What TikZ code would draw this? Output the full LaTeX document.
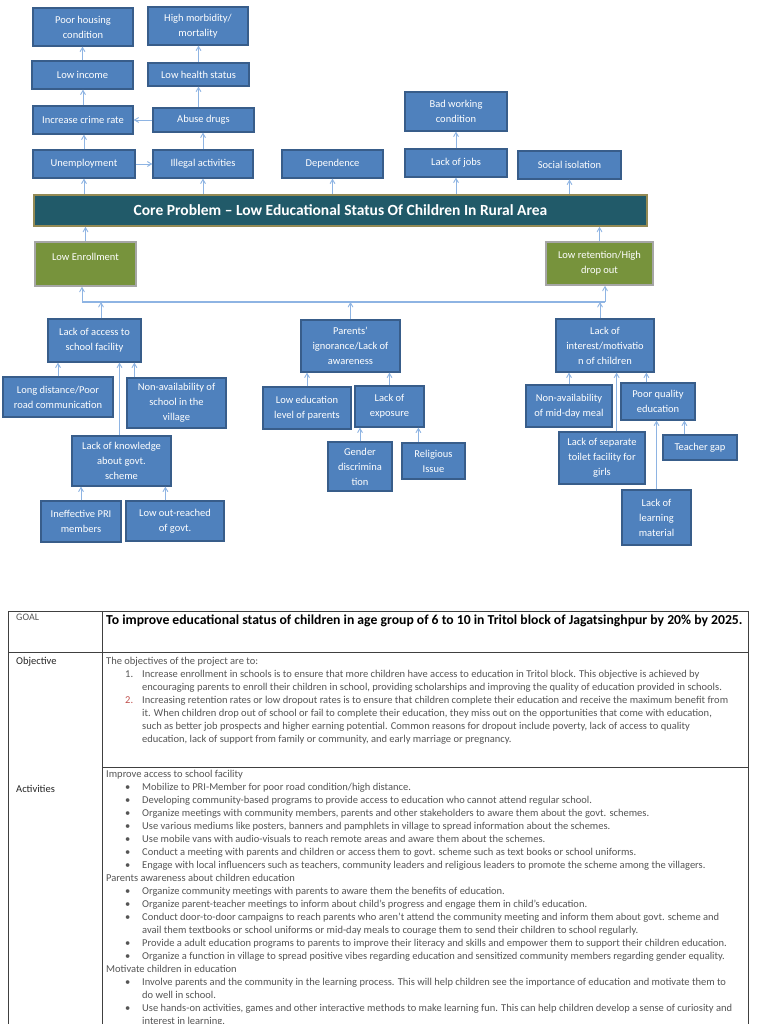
\documentclass[tikz,border=0pt]{standalone}
\usepackage{fontspec}
\setmainfont{Carlito}
\usepackage{xcolor}
\usetikzlibrary{arrows,shapes,positioning,calc}

\definecolor{probblue}{HTML}{4F81BD}
\definecolor{probedge}{HTML}{385D8A}
\definecolor{linkblue}{HTML}{8EB4E3}
\definecolor{coreteal}{HTML}{215A69}
\definecolor{coreedge}{HTML}{948A54}
\definecolor{causegreen}{HTML}{77933C}
\definecolor{causeedge}{HTML}{A6A6A6}
\definecolor{tabline}{HTML}{404040}
\definecolor{tabgray}{HTML}{555555}
\definecolor{numred}{HTML}{C0504D}

\newcommand{\numline}[2]{\hspace*{19pt}\makebox[17pt][l]{#1}#2}
\newcommand{\bulline}[1]{\hspace*{19pt}\makebox[17pt][l]{\textbullet}#1}
\newcommand{\contline}[1]{\hspace*{36pt}#1}

\begin{document}
\begin{tikzpicture}[x=1pt,y=-1pt]
      \tikzstyle{every node}=[inner sep=0pt]
      \tikzstyle{prob}=[draw=probedge,fill=probblue,text=white,line width=1.2pt,align=center,font=\fontsize{10.5}{15}\selectfont]
      \tikzstyle{core}=[draw=coreedge,fill=coreteal,text=white,line width=1.6pt,font=\fontsize{15.5}{18}\selectfont\bfseries]
      \tikzstyle{cause}=[draw=causeedge,fill=causegreen,text=white,line width=1.6pt,align=center,font=\fontsize{10.5}{15}\selectfont]
      \tikzstyle{link}=[->,>=angle 60,draw=linkblue,line width=0.9pt]
      \tikzstyle{bus}=[draw=linkblue,line width=1.4pt]
      \tikzstyle{tabrule}=[draw=tabline,line width=1pt]
      \tikzstyle{tablabel}=[text=tabgray,font=\fontsize{10.5}{13}\selectfont]
      \tikzstyle{tabtext}=[text=tabgray,align=left,font=\fontsize{10.5}{13}\selectfont]

      \path[use as bounding box,fill=white] (0,0) rectangle (768,1024);

      % core problem
      \node[core,minimum width=613pt,minimum height=31pt] (core) at (340.5,210.5) {Core Problem -- Low Educational Status Of Children In Rural Area};

      % effects
      \node[prob,minimum width=100pt,minimum height=38pt] (housing) at (83,27) {Poor housing\\condition};
      \node[prob,minimum width=100pt,minimum height=38pt] (morb) at (198,26) {High morbidity/\\mortality};
      \node[prob,minimum width=101pt,minimum height=28pt] (income) at (82.5,75) {Low income};
      \node[prob,minimum width=101pt,minimum height=23pt] (health) at (198.5,74.5) {Low health status};
      \node[prob,minimum width=100pt,minimum height=28pt] (crime) at (83,120) {Increase crime rate};
      \node[prob,minimum width=101pt,minimum height=24pt] (abuse) at (203.5,120) {Abuse drugs};
      \node[prob,minimum width=102pt,minimum height=28pt] (unemp) at (84,164) {Unemployment};
      \node[prob,minimum width=100pt,minimum height=28pt] (ill) at (203,164) {Illegal activities};
      \node[prob,minimum width=101pt,minimum height=28pt] (dep) at (332.5,164) {Dependence};
      \node[prob,minimum width=102pt,minimum height=39pt] (badwork) at (456,111.5) {Bad working\\condition};
      \node[prob,minimum width=102pt,minimum height=28pt] (jobs) at (456,163) {Lack of jobs};
      \node[prob,minimum width=103pt,minimum height=28pt] (social) at (569.5,165) {Social isolation};

      % causes
      \node[cause,minimum width=101pt,minimum height=44pt] (enroll) at (85.5,264) {Low Enrollment\\ \mbox{}};
      \node[cause,minimum width=107pt,minimum height=43pt] (ret) at (599.5,263.5) {Low retention/High\\drop out};

      \node[prob,minimum width=93pt,minimum height=43pt] (access) at (94.5,340.5) {Lack of access to\\school facility};
      \node[prob,minimum width=110pt,minimum height=40pt] (longd) at (58,397) {Long distance/Poor\\road communication};
      \node[prob,minimum width=99pt,minimum height=50pt] (nosch) at (176.5,403) {Non-availability of\\school in the\\village};
      \node[prob,minimum width=99pt,minimum height=50pt] (know) at (121.5,461) {Lack of knowledge\\about govt.\\scheme};
      \node[prob,minimum width=80pt,minimum height=41pt] (pri) at (81,521.5) {Ineffective PRI\\members};
      \node[prob,minimum width=98pt,minimum height=40pt] (outr) at (175,521) {Low out-reached\\of govt.};

      \node[prob,minimum width=99pt,minimum height=52pt] (parents) at (350.5,346) {Parents'\\ignorance/Lack of\\awareness};
      \node[prob,minimum width=88pt,minimum height=42pt] (lowedu) at (307,408) {Low education\\level of parents};
      \node[prob,minimum width=69pt,minimum height=41pt] (expo) at (389.5,406.5) {Lack of\\exposure};
      \node[prob,minimum width=64pt,minimum height=49pt] (gender) at (360,466.5) {Gender\\discrimina\\tion};
      \node[prob,minimum width=63pt,minimum height=36pt] (relig) at (433.5,461) {Religious\\Issue};

      \node[prob,minimum width=98pt,minimum height=53pt] (interest) at (605,345.5) {Lack of\\interest/motivatio\\n of children};
      \node[prob,minimum width=86pt,minimum height=42pt] (midday) at (569,406) {Non-availability\\of mid-day meal};
      \node[prob,minimum width=86pt,minimum height=52pt] (toilet) at (602,458) {Lack of separate\\toilet facility for\\girls};
      \node[prob,minimum width=74pt,minimum height=37pt] (poorq) at (658,401.5) {Poor quality\\education};
      \node[prob,minimum width=74pt,minimum height=25pt] (teacher) at (700,447.5) {Teacher gap};
      \node[prob,minimum width=69pt,minimum height=55pt] (learn) at (656.5,517.5) {Lack of\\learning\\material};

      % effect arrows
      \draw[link] (unemp.south |- core.north) -- (unemp.south);
      \draw[link] (ill.south |- core.north) -- (ill.south);
      \draw[link] (dep.south |- core.north) -- (dep.south);
      \draw[link] (jobs.south |- core.north) -- (jobs.south);
      \draw[link] (social.south |- core.north) -- (social.south);
      \draw[link] (unemp.north) -- (unemp.north |- crime.south);
      \draw[link] (crime.north) -- (crime.north |- income.south);
      \draw[link] (income.north) -- (income.north |- housing.south);
      \draw[link] (unemp.east) -- (ill.west);
      \draw[link] (ill.north) -- (ill.north |- abuse.south);
      \draw[link] (abuse.west) -- (abuse.west -| crime.east);
      \draw[link] (health.south |- abuse.north) -- (health.south);
      \draw[link] (health.north) -- (health.north |- morb.south);
      \draw[link] (jobs.north) -- (jobs.north |- badwork.south);

      % cause arrows
      \draw[link] (enroll.north) -- (enroll.north |- core.south);
      \draw[link] (ret.north) -- (ret.north |- core.south);
      \coordinate (busL) at (82,302);
      \coordinate (busR) at (605,302);
      \draw[bus] (busL) -- (busR);
      \draw[link] (busL) -- (busL |- enroll.south);
      \draw[link] (busR) -- (busR |- ret.south);

      \coordinate (accT) at ([xshift=6.5pt]access.north);
      \coordinate (noschT) at ([xshift=8pt]nosch.north west);
      \coordinate (outrT) at ([xshift=40pt]outr.north west);
      \coordinate (religT) at ([xshift=17pt]relig.north west);
      \coordinate (toiletT) at ([xshift=-29pt]toilet.north east);
      \coordinate (poorqT) at ([xshift=26pt]poorq.north west);
      \coordinate (teacherT) at ([xshift=22pt]teacher.north west);

      \draw[link] (accT) -- (accT |- busL);
      \draw[link] (parents.north) -- (parents.north |- busL);
      \draw[link] ([xshift=-5pt]interest.north) -- ([xshift=-5pt]interest.north |- busL);
      \draw[link] (longd.north) -- (longd.north |- access.south);
      \draw[link] (noschT) -- (noschT |- access.south);
      \draw[link] ([xshift=-2pt]know.north) -- ([xshift=-2pt]know.north |- access.south);
      \draw[link] (pri.north) -- (pri.north |- know.south);
      \draw[link] (outrT) -- (outrT |- know.south);
      \draw[link] (lowedu.north) -- (lowedu.north |- parents.south);
      \draw[link] (expo.north) -- (expo.north |- parents.south);
      \draw[link] (gender.north) -- (gender.north |- expo.south);
      \draw[link] (religT) -- (religT |- expo.south);
      \draw[link] (midday.north) -- (midday.north |- interest.south);
      \draw[link] (toiletT) -- (toiletT |- interest.south);
      \draw[link] (poorqT) -- (poorqT |- interest.south);
      \draw[link] (teacherT) -- (teacherT |- poorq.south);
      \draw[link] (learn.north) -- (learn.north |- poorq.south);

      % table
      \draw[tabrule] (8,1030) -- (8,611) -- (748,611) -- (748,1030);
      \draw[tabrule] (102,611) -- (102,1030);
      \draw[tabrule] (8,652) -- (748,652);
      \draw[tabrule] (102,767) -- (748,767);

      \node[tablabel,anchor=base west,font=\fontsize{10}{13}\selectfont] (goallbl) at (16,620) {GOAL};
      \node[tablabel,anchor=base west,text=black!85] (objlbl) at (16,664) {Objective};
      \node[tablabel,anchor=base west,text=black!85] (actlbl) at (16,792) {Activities};

      \node[anchor=base west,text=black,font=\fontsize{13.7}{16}\selectfont\bfseries] (goal) at (106,624) {To improve educational status of children in age group of 6 to 10 in Tritol block of Jagatsinghpur by 20\% by 2025.};

      \node[tabtext,anchor=north west] (objtxt) at (106,655) {\rule{0pt}{9pt}The objectives of the project are to:\\
      \numline{1.}{Increase enrollment in schools is to ensure that more children have access to education in Tritol block. This objective is achieved by}\\
      \contline{encouraging parents to enroll their children in school, providing scholarships and improving the quality of education provided in schools.}\\
      \numline{\textcolor{numred}{2.}}{Increasing retention rates or low dropout rates is to ensure that children complete their education and receive the maximum benefit from}\\
      \contline{it. When children drop out of school or fail to complete their education, they miss out on the opportunities that come with education,}\\
      \contline{such as better job prospects and higher earning potential. Common reasons for dropout include poverty, lack of access to quality}\\
      \contline{education, lack of support from family or community, and early marriage or pregnancy.}};

      \node[tabtext,anchor=north west] (acttxt) at (106,768) {\rule{0pt}{9pt}Improve access to school facility\\
      \bulline{Mobilize to PRI-Member for poor road condition/high distance.}\\
      \bulline{Developing community-based programs to provide access to education who cannot attend regular school.}\\
      \bulline{Organize meetings with community members, parents and other stakeholders to aware them about the govt. schemes.}\\
      \bulline{Use various mediums like posters, banners and pamphlets in village to spread information about the schemes.}\\
      \bulline{Use mobile vans with audio-visuals to reach remote areas and aware them about the schemes.}\\
      \bulline{Conduct a meeting with parents and children or access them to govt. scheme such as text books or school uniforms.}\\
      \bulline{Engage with local influencers such as teachers, community leaders and religious leaders to promote the scheme among the villagers.}\\
      Parents awareness about children education\\
      \bulline{Organize community meetings with parents to aware them the benefits of education.}\\
      \bulline{Organize parent-teacher meetings to inform about child's progress and engage them in child's education.}\\
      \bulline{Conduct door-to-door campaigns to reach parents who aren't attend the community meeting and inform them about govt. scheme and}\\
      \contline{avail them textbooks or school uniforms or mid-day meals to courage them to send their children to school regularly.}\\
      \bulline{Provide a adult education programs to parents to improve their literacy and skills and empower them to support their children education.}\\
      \bulline{Organize a function in village to spread positive vibes regarding education and sensitized community members regarding gender equality.}\\
      Motivate children in education\\
      \bulline{Involve parents and the community in the learning process. This will help children see the importance of education and motivate them to}\\
      \contline{do well in school.}\\
      \bulline{Use hands-on activities, games and other interactive methods to make learning fun. This can help children develop a sense of curiosity and}\\
      \contline{interest in learning.}};
\end{tikzpicture}
\end{document}
